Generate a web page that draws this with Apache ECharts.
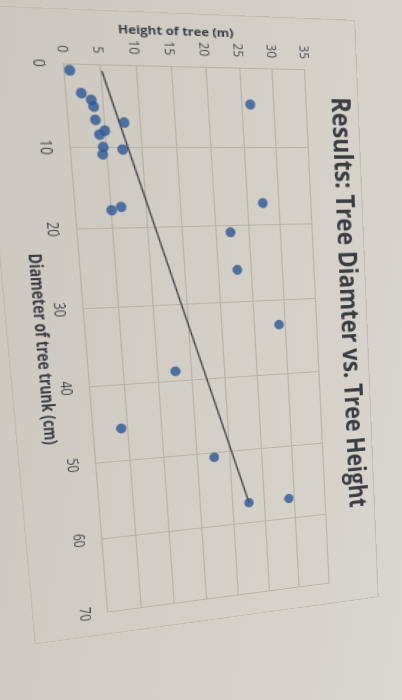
<!DOCTYPE html>
<html>
<head>
<meta charset="utf-8">
<script src="https://cdn.jsdelivr.net/npm/echarts@6/dist/echarts.min.js"></script>
<style>
html,body{margin:0;padding:0;width:402px;height:700px;overflow:hidden;background:#d1ccc3;}
#paper{position:absolute;left:0;top:0;width:402px;height:700px;
  background:linear-gradient(100deg,#cdc8bf 0%,#d3cec5 45%,#d7d3cb 80%,#dbd8d2 100%);}
#chart{position:absolute;left:0;top:0;width:612px;height:300px;transform-origin:0 0;outline:1px solid #c2bcb2;}
</style>
</head>
<body>
<div id="paper"></div>
<div id="chart"></div>
<script>
// ---- data ----
const diameterCm = [0.8, 3.5, 4.3, 5.1, 6.7, 8.0, 8.5, 10.0, 10.9, 7.0, 10.3, 17.8, 17.4, 4.6, 17.2, 20.9, 25.8, 33.3, 38.7, 45.7, 50.6, 57.3, 57.3];
const heightM    = [0.7, 2.05, 3.35, 3.6, 3.7, 4.9, 4.1, 4.5, 4.35, 7.7, 7.2, 5.0, 6.4, 26.3, 27.4, 22.2, 22.9, 28.9, 12.6, 4.0, 17.6, 22.6, 29.0];
// linear trendline as drawn in the picture (its two end values)
const trendDiameter = [0.8, 57.3];
const trendHeight   = [5.1, 22.6];
const titleText = 'Results: Tree Diamter vs. Tree Height';
const xAxisName = 'Diameter of tree trunk (cm)';
const yAxisName = 'Height of tree (m)';
const xRange = [0, 70, 10];
const yRange = [0, 35, 5];

// ---- native chart layout ----
const W = 612, H = 300;
const GL = 49, GT = 45, GW = 540, GH = 195;
const titleCenter = 293;
const titleFontSize = 23.5;
const font = 'Open Sans';

const mctx = document.createElement('canvas').getContext('2d');
mctx.font = `bold ${titleFontSize}px "${font}"`;
const titleWidth = mctx.measureText(titleText).width;

const el = document.getElementById('chart');
const chart = echarts.init(el, null, {renderer: 'svg', width: W, height: H});
const txt = '#3a3c42';
const grid = '#b8b1a6';
chart.setOption({
  animation: false,
  backgroundColor: 'transparent',
  title: {
    text: titleText, left: Math.round(titleCenter - titleWidth / 2), top: 2, padding: 0,
    textStyle: {fontFamily: font, fontWeight: 'bold', fontSize: titleFontSize, color: txt}
  },
  grid: {left: GL, top: GT, width: GW, height: GH, containLabel: false, outerBoundsMode: 'none'},
  xAxis: {
    type: 'value', min: xRange[0], max: xRange[1], interval: xRange[2],
    name: xAxisName, nameLocation: 'middle', nameGap: 27, nameMoveOverlap: false,
    nameTextStyle: {fontFamily: font, fontWeight: 'bold', fontSize: 13.5, color: txt},
    axisLine: {show: true, lineStyle: {color: grid, width: 1}},
    axisTick: {show: false},
    axisLabel: {margin: 12, fontFamily: font, fontSize: 12.5, color: '#47494e'},
    splitLine: {show: true, lineStyle: {color: grid, width: 1}}
  },
  yAxis: {
    type: 'value', min: yRange[0], max: yRange[1], interval: yRange[2],
    name: yAxisName, nameLocation: 'middle', nameGap: 27, nameRotate: 90, nameMoveOverlap: false,
    nameTextStyle: {fontFamily: font, fontWeight: 'bold', fontSize: 10.5, color: txt, padding: [0, 16, 0, 0]},
    axisLine: {show: true, lineStyle: {color: grid, width: 1}},
    axisTick: {show: false},
    axisLabel: {margin: 10, fontFamily: font, fontSize: 11.5, color: '#47494e'},
    splitLine: {show: true, lineStyle: {color: grid, width: 1}}
  },
  series: [
    {type: 'line', data: trendDiameter.map((d, i) => [d, trendHeight[i]]), showSymbol: false,
     lineStyle: {color: '#3e3f42', width: 1.2}, z: 2},
    {type: 'scatter', data: diameterCm.map((d, i) => [d, heightM[i]]), symbolSize: [10, 8.4],
     itemStyle: {color: '#2a5797'}, z: 3}
  ]
});

// ---- warp the chart onto the photographed page (rotation + perspective) ----
// grid reference points on the photo: [diameter, height, photoX, photoY]
const warpRefs = [
  [0,0,62,67],[10,0,70,144],[20,0,76.7,225],[30,0,83.3,306],[40,0,91.7,388],[50,0,96.7,467],[60,0,107,540],[70,0,106,610],
  [0,35,300,72],[30,35,321.7,295],[40,35,321.7,372],[50,35,321.7,450],[60,35,320,515],[70,35,327,580],
  [0,5,98.3,69],[0,10,133.3,69.5],[0,15,170,70],[0,20,203.3,70.5],[0,25,236.7,71],[0,30,270,71.5],
  [70,5,140,605.5],[70,10,171.7,601],[70,15,205,596.5],[70,20,235,592],[70,25,266.7,588],[70,30,296.7,584],
  [10,5,106.7,143.8],[10,10,143.3,143.6],[10,15,177,143.4],[10,20,212,143.2],[10,25,246,143],[10,30,279.3,142.8],[10,35,310,142.6],
  [30,5,118,304.4],[30,10,155,302.7],[30,15,190,301.1],[30,20,225,299.5],[30,25,257,298],[30,30,290,296.5],
  [50,5,131.7,464.4],[50,10,166.7,461.7],[50,15,200,459.2],[50,20,231.7,456.8],[50,25,261.7,454.6],[50,30,293.3,452.3]
];
function solve(A, b) {
  const m = b.length;
  for (let i = 0; i < m; i++) {
    let p = i;
    for (let r = i + 1; r < m; r++) if (Math.abs(A[r][i]) > Math.abs(A[p][i])) p = r;
    [A[i], A[p]] = [A[p], A[i]]; [b[i], b[p]] = [b[p], b[i]];
    for (let r = i + 1; r < m; r++) {
      const f = A[r][i] / A[i][i];
      for (let c = i; c < m; c++) A[r][c] -= f * A[i][c];
      b[r] -= f * b[i];
    }
  }
  const x = new Array(m);
  for (let i = m - 1; i >= 0; i--) {
    let s = b[i];
    for (let c = i + 1; c < m; c++) s -= A[i][c] * x[c];
    x[i] = s / A[i][i];
  }
  return x;
}
const srcCorners = [[GL, GT + GH], [GL, GT], [GL + GW, GT + GH], [GL + GW, GT]];
function homFromCorners(p) {
  const A = [], B = [];
  for (let i = 0; i < 4; i++) {
    const [x, y] = srcCorners[i], u = p[2 * i], v = p[2 * i + 1];
    A.push([x, y, 1, 0, 0, 0, -x * u, -y * u]); B.push(u);
    A.push([0, 0, 0, x, y, 1, -x * v, -y * v]); B.push(v);
  }
  return solve(A, B);
}
const nat = warpRefs.map(([d, hh]) => [GL + d / (xRange[1] - xRange[0]) * GW, GT + GH - hh / (yRange[1] - yRange[0]) * GH]);
function predict(p) {
  const h = homFromCorners(p), out = [];
  for (const [u, v] of nat) {
    const w = h[6] * u + h[7] * v + 1;
    out.push((h[0] * u + h[1] * v + h[2]) / w, (h[3] * u + h[4] * v + h[5]) / w);
  }
  return out;
}
const obs = [];
warpRefs.forEach(r => obs.push(r[2], r[3]));
let p = [62, 67, 300, 72, 106, 610, 327, 580];
for (let it = 0; it < 25; it++) {
  const base = predict(p);
  const res = obs.map((o, i) => o - base[i]);
  const J = [];
  for (let j = 0; j < 8; j++) {
    const q = p.slice(); q[j] += 0.01;
    const pr = predict(q);
    J.push(pr.map((v, i) => (v - base[i]) / 0.01));
  }
  const N = [], g = [];
  for (let a = 0; a < 8; a++) {
    N.push(new Array(8).fill(0)); g.push(0);
    for (let i = 0; i < res.length; i++) {
      g[a] += J[a][i] * res[i];
      for (let b = 0; b < 8; b++) N[a][b] += J[a][i] * J[b][i];
    }
    N[a][a] += 1e-6;
  }
  const delta = solve(N, g);
  p = p.map((v, i) => v + delta[i]);
}
const h = homFromCorners(p);
el.style.transform = `matrix3d(${h[0]},${h[3]},0,${h[6]},${h[1]},${h[4]},0,${h[7]},0,0,1,0,${h[2]},${h[5]},0,1)`;
</script>
</body>
</html>
